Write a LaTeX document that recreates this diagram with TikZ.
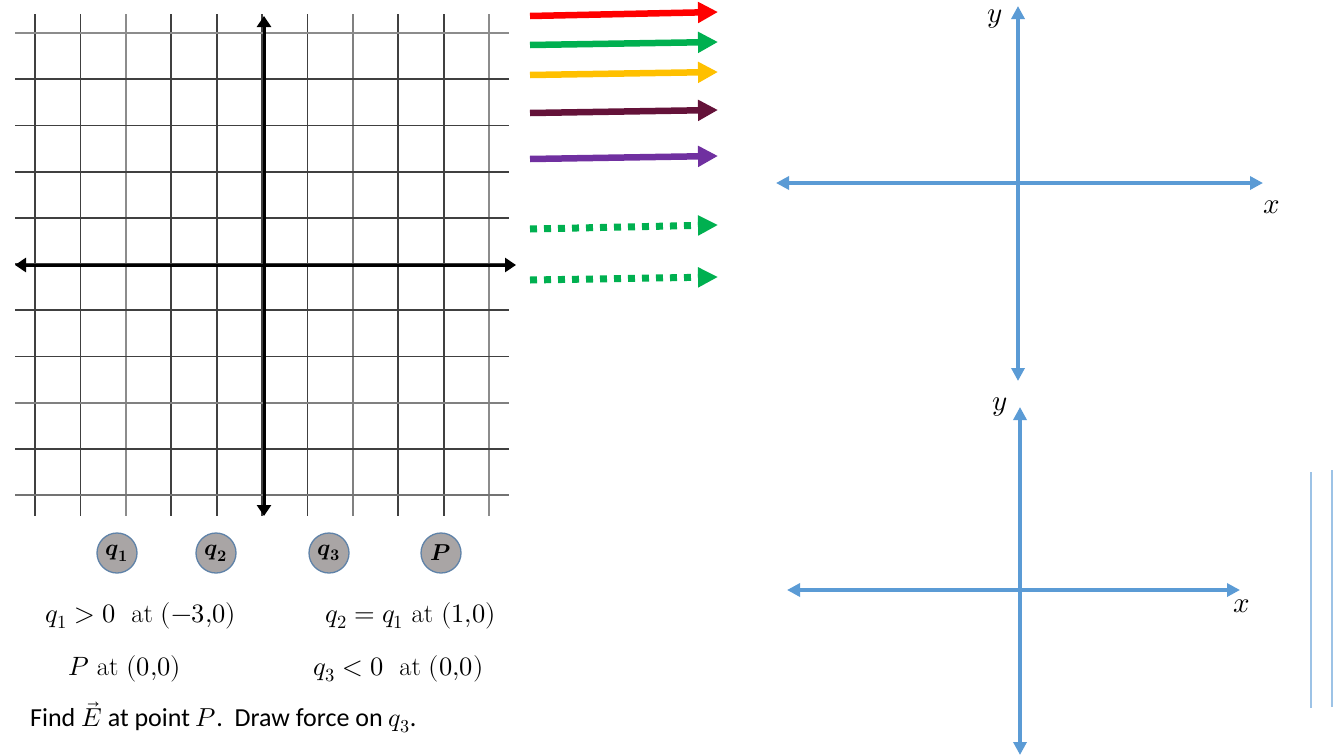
\documentclass[tikz,border=0pt]{standalone}
\usepackage{amsmath,amssymb}
\usepackage{fontspec}
\usepackage{unicode-math}
\setmathfont{Latin Modern Math}
\newfontfamily\calibri{Carlito}
\usepackage{xcolor}
\usetikzlibrary{arrows.meta}

\definecolor{axblue}{HTML}{5B9BD5}
\definecolor{thinblue}{HTML}{9DC3E6}
\definecolor{vgreen}{HTML}{00B050}
\definecolor{vyellow}{HTML}{FFC000}
\definecolor{vmaroon}{HTML}{641239}
\definecolor{vpurple}{HTML}{7030A0}
\definecolor{chargefill}{HTML}{A9A5A5}
\definecolor{chargeedge}{HTML}{5F82A8}

\begin{document}
\begin{tikzpicture}[x=1pt,y=-1pt,
  gridline/.style={line width=1.8pt},
  blackaxis/.style={line width=3pt,{Triangle[length=11pt,width=14pt]}-{Triangle[length=11pt,width=14pt]}},
  blueaxis/.style={axblue,line width=3.5pt,{Triangle[length=13pt,width=13pt]}-{Triangle[length=13pt,width=13pt]}},
  vecarrow/.style={line width=6.5pt,-{Triangle[length=20pt,width=20pt]}},
  dotarrow/.style={vgreen,line width=7pt,dash pattern=on 7pt off 7pt,-{Triangle[length=20pt,width=19pt]}},
  charge/.style={circle,draw=chargeedge,fill=chargefill,line width=1.3pt,minimum size=40pt,inner sep=0pt,font=\fontsize{23}{26}\selectfont},
  given/.style={anchor=base west,inner sep=0pt,font=\fontsize{26.5}{32}\selectfont},
  axlabel/.style={anchor=base,inner sep=0pt,font=\fontsize{29}{34}\selectfont}]
\useasboundingbox (0,0) rectangle (1341,755);

% graph paper
\foreach \k/\s in {0/75,1/75,2/45,3/75,4/75,5/75,6/75,7/50,8/75,9/75,10/45}
  \draw [gridline,black!\s] (35+45.4*\k,14) -- (35+45.4*\k,516);
\foreach \k/\s in {0/45,1/75,2/75,3/75,4/75,5/75,6/75,7/75,8/50,9/75,10/55}
  \draw [gridline,black!\s] (15,33+46.2*\k) -- (509,33+46.2*\k);

\coordinate (gL) at (15,265);
\coordinate (gR) at (516,265);
\coordinate (gT) at (264,16);
\coordinate (gB) at (264,516);
\draw [blackaxis] (gL) -- (gR);
\draw [blackaxis] (gT) -- (gB);

% charges
\node [charge] (q1) at (117,553) {$\symbfit{q}_{\symbfup{1}}$};
\node [charge] (q2) at (216,553) {$\symbfit{q}_{\symbfup{2}}$};
\node [charge] (q3) at (329,553) {$\symbfit{q}_{\symbfup{3}}$};
\node [charge] (p) at (441,553) {$\symbfit{P}$};

% given data
\node [given] (t1) at (45,622) {$q_1>0$\ \ at $(-3{,}0)$};
\node [given] (t2) at (325,622) {$q_2=q_1$ at $(1{,}0)$};
\node [given] (t3) at (68,675) {$P$ at $(0{,}0)$};
\node [given] (t4) at (313,675) {$q_3<0$\ \ at $(0{,}0)$};
\node [given,font=\fontsize{26}{30}\calibri] (task) at (30,726) {Find $\vec{E}$ at point $P$.\ \ Draw force on $q_3$.};

% vector palette
\foreach \i/\c/\ya/\yb in {1/red/16/12,2/vgreen/45/42,3/vyellow/75/72,4/vmaroon/113/110,5/vpurple/159/156}{
  \coordinate (v\i s) at (530,\ya);
  \coordinate (v\i e) at (718,\yb);
  \draw [vecarrow,\c] (v\i s) -- (v\i e);
}
\coordinate (d1s) at (530,229);
\coordinate (d1e) at (718,225);
\coordinate (d2s) at (530,280);
\coordinate (d2e) at (718,277);
\draw [dotarrow] (d1s) -- (d1e);
\draw [dotarrow] (d2s) -- (d2e);

% upper axes
\coordinate (aL) at (776,183);
\coordinate (aR) at (1263,183);
\coordinate (aT) at (1018,6);
\coordinate (aB) at (1018,381);
\draw [blueaxis] (aL) -- (aR);
\draw [blueaxis] (aB) -- (aT);
\node [axlabel] (ay) at (995,22) {$y$};
\node [axlabel] (ax) at (1272,213) {$x$};

% lower axes
\coordinate (bL) at (787,590);
\coordinate (bR) at (1240,590);
\coordinate (bT) at (1020,407);
\coordinate (bB) at (1020,755);
\draw [blueaxis] (bL) -- (bR);
\draw [blueaxis] (bB) -- (bT);
\node [axlabel] (by) at (1000,410) {$y$};
\node [axlabel] (bx) at (1242,612) {$x$};

% thin lines at the edge
\coordinate (e1t) at (1311,472);
\coordinate (e1b) at (1311,708);
\coordinate (e2t) at (1332,470);
\coordinate (e2b) at (1332,707);
\draw [thinblue,line width=1.5pt] (e1t) -- (e1b);
\draw [thinblue,line width=1.5pt] (e2t) -- (e2b);
\end{tikzpicture}
\end{document}
